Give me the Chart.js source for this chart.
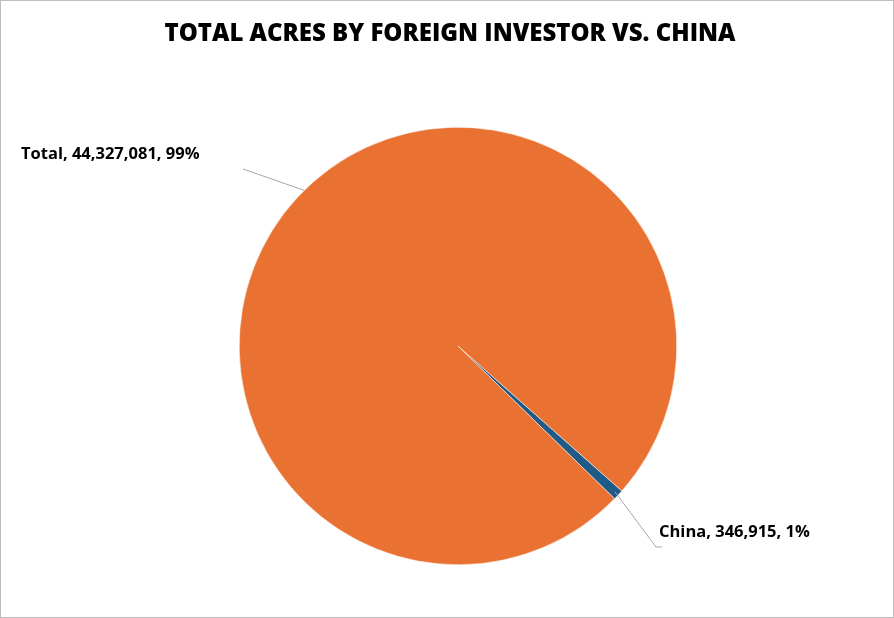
<!DOCTYPE html>
<html><head><meta charset="utf-8">
<script src="https://cdn.jsdelivr.net/npm/chart.js@4/dist/chart.umd.min.js"></script>
<style>html,body{margin:0;padding:0;background:#fff}#w{width:894px;height:618px;position:relative;box-sizing:border-box;border:1px solid #bdbdbd}</style>
</head><body><div id="w"><canvas id="c"></canvas></div>
<script>
const labels = ["China", "Total"];
const values = [346915, 44327081];
const percents = ["1%", "99%"];
const colors = ["#1f5b86", "#e97132"];
const title = "TOTAL ACRES BY FOREIGN INVESTOR VS. CHINA";

const fmt = n => n.toLocaleString("en-US");
const deco = {
  id: "deco",
  afterDraw(chart) {
    const ctx = chart.ctx;
    ctx.save();
    ctx.fillStyle = "#000";
    ctx.font = "800 24px 'Open Sans'";
    ctx.textAlign = "center"; ctx.textBaseline = "middle";
    ctx.fillText(title, 449, 33);
    const meta = chart.getDatasetMeta(0);
    ctx.font = "bold 16.5px 'Open Sans'";
    ctx.textBaseline = "middle";
    ctx.strokeStyle = "#a6a6a6"; ctx.lineWidth = 1;
    meta.data.forEach((arc, i) => {
      const mid = (arc.startAngle + arc.endAngle) / 2;
      const r = arc.outerRadius;
      const text = labels[i] + ", " + fmt(values[i]) + ", " + percents[i];
      let ax, ay, tx, ty;
      if (i === 0) {
        ax = arc.x + Math.cos(mid) * r * 0.98; ay = arc.y + Math.sin(mid) * r * 0.98;
        ctx.beginPath(); ctx.moveTo(ax, ay); ctx.lineTo(655, 546); ctx.lineTo(661, 546); ctx.stroke();
        tx = 658; ty = 531;
      } else {
        const a = -2.35;
        ax = arc.x + Math.cos(a) * r; ay = arc.y + Math.sin(a) * r;
        ctx.beginPath(); ctx.moveTo(ax, ay); ctx.lineTo(242, 168); ctx.stroke();
        tx = 20; ty = 153;
      }
      ctx.textAlign = "left";
      ctx.fillText(text, tx, ty);
    });
    ctx.restore();
  }
};

new Chart(document.getElementById("c"), {
  type: "pie",
  data: { labels, datasets: [{ data: values, backgroundColor: colors, borderColor: "#ffffff", borderWidth: 0.5 }] },
  options: {
    responsive: true, maintainAspectRatio: false, animation: false,
    rotation: 131.5,
    layout: { padding: { top: 126, bottom: 52, left: 238, right: 216 } },
    plugins: { legend: { display: false }, tooltip: { enabled: false } }
  },
  plugins: [deco]
});
</script></body></html>
